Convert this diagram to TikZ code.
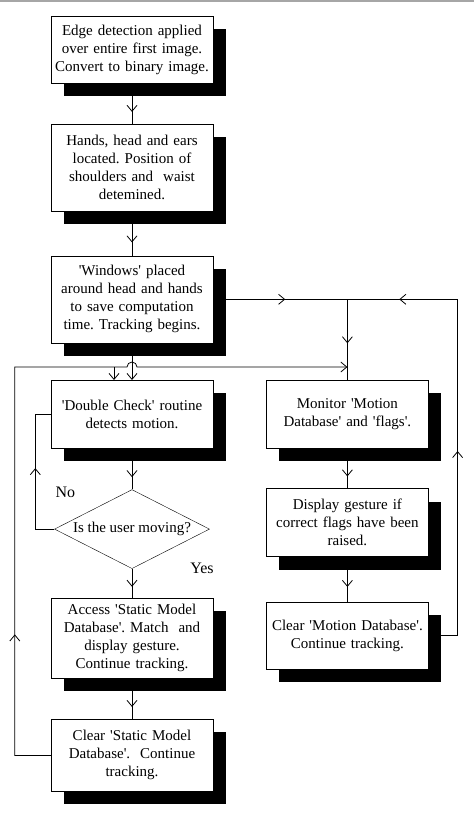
\documentclass[tikz,border=0pt]{standalone}
\usepackage{fontspec}
\setmainfont{Liberation Serif}
\usetikzlibrary{shapes.geometric, arrows.meta, positioning, shadows, decorations.markings}

\tikzset{barb/.tip={Straight Barb[length=6pt, width=10pt]}}

\begin{document}
\frenchspacing
\begin{tikzpicture}[
      x=1pt, y=1pt,
      font=\fontsize{15}{18}\selectfont,
      block/.style={rectangle, draw, fill=white, text width=160pt, text centered, inner xsep=1pt, minimum height=#1, drop shadow={shadow xshift=13pt, shadow yshift=-13pt, fill=black, opacity=1}},
      block/.default=68pt,
      decision/.style={diamond, draw, minimum width=155pt, minimum height=79pt, inner sep=0pt},
      line/.style={draw, line width=0.8pt},
      midarrow/.style={postaction={decorate}, decoration={markings, mark=at position #1 with {\arrow{barb}}}},
      midarrow/.default=0.7,
      midarrows/.style 2 args={postaction={decorate}, decoration={markings, mark=at position #1 with {\arrow{barb}}, mark=at position #2 with {\arrow{barb}}}}
  ]

  \useasboundingbox (0,0) rectangle (474,-816);
  \fill [gray!70] (0,0) rectangle (474,-2);

  \node [block=67pt] (edge) at (132,-49.5) {Edge detection applied\\over entire first image.\\Convert to binary image.};
  \node [block=87pt, below=41pt of edge] (hands) {Hands, head and ears\\located. Position of\\shoulders and\ \ waist\\detemined.};
  \node [block=87pt, below=44pt of hands] (windows) {\textquotesingle Windows\textquotesingle{} placed\\around head and hands\\to save computation\\time. Tracking begins.};
  \node [block, below=37pt of windows] (dcheck) {\textquotesingle Double Check\textquotesingle{} routine\\detects motion.};
  \node [decision, below=41pt of dcheck, label=center:{Is the user moving?}] (decide) {};
  \node [block=80pt, below=29pt of decide] (access) {Access \textquotesingle Static Model\\Database\textquotesingle. Match\ \ and\\display gesture.\\Continue tracking.};
  \node [block=72pt, below=41pt of access] (clrstatic) {Clear \textquotesingle Static Model\\Database\textquotesingle.\ \ Continue\\tracking.};
  \node [block, right=53pt of dcheck] (monitor) {Monitor \textquotesingle Motion\\Database\textquotesingle{} and \textquotesingle flags\textquotesingle.};
  \node [block, below=40pt of monitor] (display) {Display gesture if\\correct flags have been\\raised.};
  \node [block=67pt, below=45pt of display] (clrmotion) {Clear \textquotesingle Motion Database\textquotesingle.\\Continue tracking.};

  \node [font=\fontsize{16}{18}\selectfont] (no) at ([xshift=11pt, yshift=37pt]decide.west) {No};
  \node [font=\fontsize{16}{18}\selectfont] (yes) at ([xshift=70pt]decide.south) {Yes};

  \coordinate (jn) at (monitor.north |- windows.east);
  \coordinate (loop) at ([yshift=13pt]dcheck.north);
  \coordinate (jn2) at (monitor.north |- loop);

  \path [line, midarrow] (edge) -- (hands);
  \path [line, midarrow] (hands) -- (windows);
  \path [line, -barb] (windows) -- (dcheck);
  \path [line, midarrow] (dcheck) -- (decide);
  \path [line, midarrow=0.62] (decide) -- (access);
  \path [line, midarrow] (access) -- (clrstatic);
  \path [line, midarrow=80pt] (decide.west) -- ++(-19,0) |- (dcheck.west);

  \path [line, midarrow=72pt] (windows.east) -- (jn);
  \path [line, midarrow=44pt] (jn) -- (monitor.north);
  \path [line, midarrow] (monitor) -- (display);
  \path [line, midarrow=0.67] (display) -- (clrmotion);
  \path [line, midarrows={213.5pt}{423.5pt}] (clrmotion.east) -- ++(29,0) |- (jn);

  \path [line, -barb, midarrow=157pt] (clrstatic.west) -- ++(-36,0) |- ([xshift=-5pt]loop) arc[start angle=180, end angle=0, radius=5pt] -- (jn2);
  \path [line, -barb] ([xshift=-18pt]loop) -- ([xshift=-18pt]dcheck.north);

\end{tikzpicture}
\end{document}
